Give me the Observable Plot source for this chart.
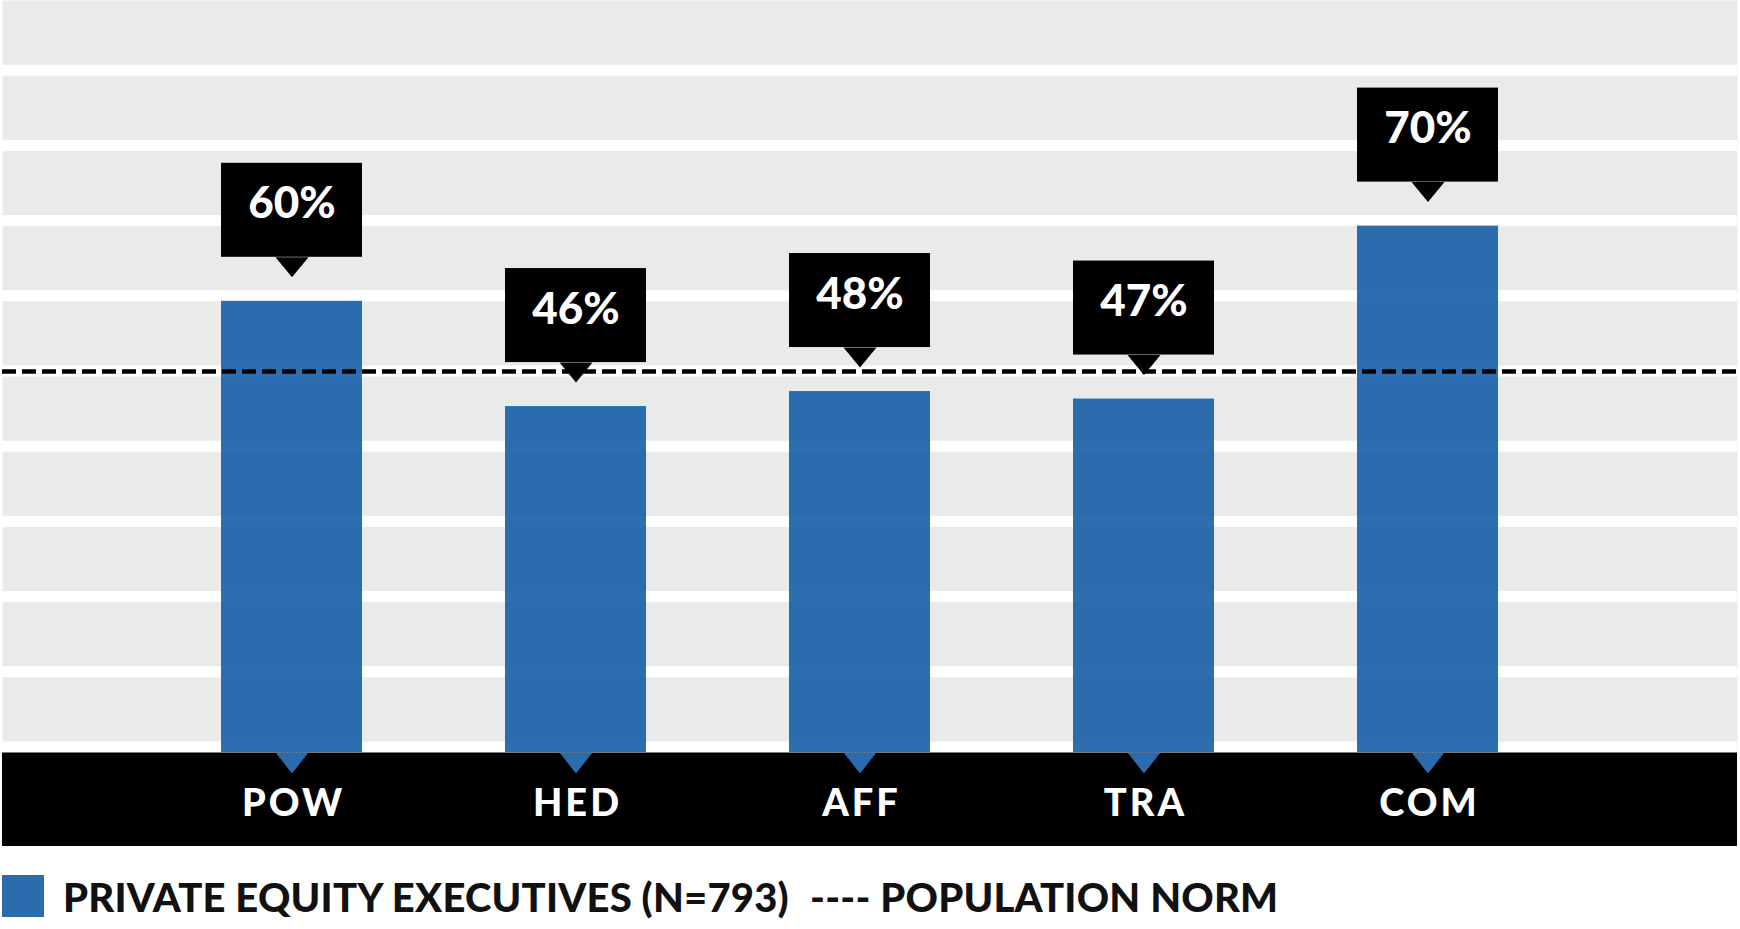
<!DOCTYPE html>
<html>
<head>
<meta charset="utf-8">
<script src="https://cdn.jsdelivr.net/npm/d3@7"></script>
<script src="https://cdn.jsdelivr.net/npm/@observablehq/plot@0.6"></script>
<style>
  html, body { margin: 0; padding: 0; background: #fff; }
  #chart svg { display: block; }
  #chart g[aria-label="x-axis tick label"] text { letter-spacing: 3px; }
  #legend { position: relative; width: 1740px; height: 83px; font-family: Lato, "Open Sans", sans-serif; font-weight: 900; color: #111; }
  #legend .sw { position: absolute; left: 2px; top: 29px; width: 42px; height: 42px; background: #2a6cae; }
  #legend .t { position: absolute; top: 31px; font-size: 40px; line-height: 40px; letter-spacing: 0.2px; white-space: nowrap; }
</style>
</head>
<body>
<div id="chart"></div>
<div id="legend"></div>
<script>
const categories = ["POW", "HED", "AFF", "TRA", "COM"];
const values = [60, 46, 48, 47, 70];
const populationNorm = 50;
const gridTicks = [0, 10, 20, 30, 40, 50, 60, 70, 80, 90];
const seriesLabel = "PRIVATE EQUITY EXECUTIVES (N=793)";
const normLabel = "---- POPULATION NORM";

const data = categories.map((c, i) => ({category: c, value: values[i]}));

const blue = "#2a6cae";
const downTriangle = (w, h) => ({
  draw(context) {
    context.moveTo(-w / 2, 0);
    context.lineTo(w / 2, 0);
    context.lineTo(0, h);
    context.closePath();
  }
});

const font = "Lato, 'Open Sans', sans-serif";

const chart = Plot.plot({
  width: 1740,
  height: 846,
  marginTop: 0,
  marginLeft: 2,
  marginRight: 3,
  marginBottom: 94,
  x: {type: "band", domain: categories, paddingInner: 0.5023, paddingOuter: 0.8025, align: 0.4795, axis: null},
  y: {domain: [0, 100], axis: null},
  marks: [
    Plot.frame({fill: "#e9eaea", stroke: null}),
    Plot.ruleY(gridTicks, {stroke: "white", strokeWidth: 11, dy: -5.5}),
    Plot.barY(data, {x: "category", y: "value", fill: "#155ea7", fillOpacity: 0.9}),
    Plot.ruleY([populationNorm], {stroke: "black", strokeWidth: 4.5, strokeDasharray: "14,6", dy: -5}),
    Plot.ruleY([0], {stroke: "black", strokeWidth: 94, dy: 47}),
    Plot.dot(data, {x: "category", y: 0, symbol: downTriangle(33, 21), fill: blue, stroke: null}),
    Plot.barY(data, {x: "category", y1: "value", y2: "value", fill: "black", insetTop: -138, insetBottom: 44}),
    Plot.dot(data, {x: "category", y: "value", dy: -44, symbol: downTriangle(33, 20), fill: "black", stroke: null}),
    Plot.text(data, {x: "category", y: "value", text: d => d.value + "%", dy: -97, lineAnchor: "middle",
      fill: "white", fontSize: 44, fontWeight: 900, fontFamily: font}),
    Plot.axisX({tickSize: 0, tickPadding: 0, dy: 51, dx: 1.5, lineAnchor: "middle", color: "white",
      fontSize: 38, fontWeight: 900, fontFamily: font, label: null})
  ]
});
document.getElementById("chart").append(chart);

const legend = document.getElementById("legend");
legend.innerHTML = `<div class="sw"></div><span class="t" style="left:63px">${seriesLabel}</span><span class="t" style="left:810px">${normLabel}</span>`;
</script>
</body>
</html>
